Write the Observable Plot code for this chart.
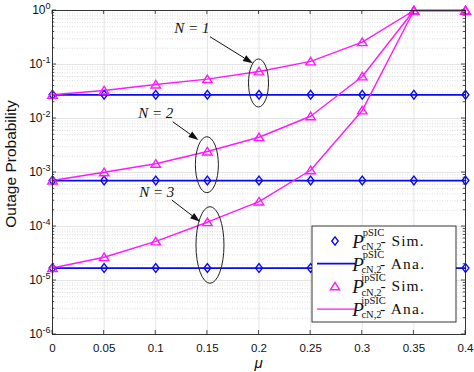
<!DOCTYPE html>
<html><head><meta charset="utf-8">
<script src="https://cdn.jsdelivr.net/npm/d3@7"></script>
<script src="https://cdn.jsdelivr.net/npm/@observablehq/plot@0.6"></script>
<style>
body{margin:0;background:#fff}
#chart{width:474px;height:372px}
</style>
</head><body><div id="chart"></div>
<script>
// ---- data ----
const mu = [0, 0.05, 0.1, 0.15, 0.2, 0.25, 0.3, 0.35, 0.4];
const Ns = [1, 2, 3];
const pSIC_N1 = [0.0275, 0.0275, 0.0275, 0.0275, 0.0275, 0.0275, 0.0275, 0.0275, 0.0275];
const pSIC_N2 = [7.1e-4, 7.1e-4, 7.1e-4, 7.1e-4, 7.1e-4, 7.1e-4, 7.1e-4, 7.1e-4, 7.1e-4];
const pSIC_N3 = [1.7e-5, 1.7e-5, 1.7e-5, 1.7e-5, 1.7e-5, 1.7e-5, 1.7e-5, 1.7e-5, 1.7e-5];
const ipSIC_N1 = [0.0275, 0.033, 0.0426, 0.0535, 0.0743, 0.114, 0.259, 1, 1];
const ipSIC_N2 = [7.1e-4, 1.01e-3, 1.45e-3, 2.45e-3, 4.5e-3, 0.011, 0.06, 1, 1];
const ipSIC_N3 = [1.7e-5, 2.7e-5, 5.3e-5, 1.2e-4, 2.9e-4, 1.1e-3, 0.0141, 1, 1];
const xTicks = [0, 0.05, 0.1, 0.15, 0.2, 0.25, 0.3, 0.35, 0.4];
const xTickLabels = ["0", "0.05", "0.1", "0.15", "0.2", "0.25", "0.3", "0.35", "0.4"];
const yTicks = [1e-6, 1e-5, 1e-4, 1e-3, 1e-2, 1e-1, 1];
const yExponents = ["-6", "-5", "-4", "-3", "-2", "-1", "0"];
const annLabels = ["N = 1", "N = 2", "N = 3"];
const annTextX = [0.135, 0.1, 0.101];
const annTextY = [0.464, 0.0124, 4.3e-4];
const arrowX1 = [0.153, 0.117, 0.116];
const arrowY1 = [0.32, 8.5e-3, 3.03e-4];
const arrowX2 = [0.1946, 0.1418, 0.1434];
const arrowY2 = [0.103, 3.9e-3, 1.2e-4];
const ellX = [0.2, 0.15, 0.153];
const ellTop = [0.124, 4.5e-3, 2.28e-4];
const ellBottom = [0.016, 4.14e-4, 8.7e-6];
const ellRx = [10, 11.5, 14];
const legendSup = ["pSIC", "pSIC", "ipSIC", "ipSIC"];
const legendKind = ["Sim.", "Ana.", "Sim.", "Ana."];

// ---- build tables ----
const pS = [pSIC_N1, pSIC_N2, pSIC_N3];
const ipS = [ipSIC_N1, ipSIC_N2, ipSIC_N3];
const rows = [];
Ns.forEach((n, j) => mu.forEach((m, i) => rows.push({mu: m, N: n, p: pS[j][i], ip: ipS[j][i]})));
const minorY = [];
for (let e = -6; e < 0; e++) for (let k = 2; k <= 9; k++) minorY.push(k * Math.pow(10, e));
const ann = annLabels.map((t, i) => ({t, x: annTextX[i], y: annTextY[i]}));

const BLUE = "#0a0af0", MAG = "#ff19ff";
const diamond = {draw(ctx, size) { const s = Math.sqrt(size / Math.PI);
  ctx.moveTo(0, -1.3 * s); ctx.lineTo(s, 0); ctx.lineTo(0, 1.3 * s); ctx.lineTo(-s, 0); ctx.closePath(); }};
const triangle = {draw(ctx, size) { const s = Math.sqrt(size / Math.PI);
  ctx.moveTo(0, -0.95 * s); ctx.lineTo(1.1 * s, 0.8 * s); ctx.lineTo(-1.1 * s, 0.8 * s); ctx.closePath(); }};

const svgNS = "http://www.w3.org/2000/svg";
function el(tag, attrs, parent) { const e = document.createElementNS(svgNS, tag);
  for (const k in attrs) e.setAttribute(k, attrs[k]); if (parent) parent.appendChild(e); return e; }

// inward ticks on all sides
function frameTicks(index, scales, values, dim) {
  const g = el("g", {stroke: "#222", "stroke-width": 0.8});
  const L = dim.marginLeft, R = dim.width - dim.marginRight, T = dim.marginTop, B = dim.height - dim.marginBottom;
  xTicks.forEach(v => { const x = scales.x(v);
    el("line", {x1: x, x2: x, y1: B, y2: B - 4}, g); el("line", {x1: x, x2: x, y1: T, y2: T + 4}, g); });
  yTicks.forEach(v => { const y = scales.y(v);
    el("line", {x1: L, x2: L + 4, y1: y, y2: y}, g); el("line", {x1: R, x2: R - 4, y1: y, y2: y}, g); });
  minorY.forEach(v => { const y = scales.y(v);
    el("line", {x1: L, x2: L + 2.2, y1: y, y2: y}, g); el("line", {x1: R, x2: R - 2.2, y1: y, y2: y}, g); });
  return g;
}

function annotations(index, scales) {
  const g = el("g", {});
  ellX.forEach((v, i) => {
    const cx = scales.x(v), y1 = scales.y(ellTop[i]), y2 = scales.y(ellBottom[i]);
    el("ellipse", {cx, cy: (y1 + y2) / 2, rx: ellRx[i], ry: (y2 - y1) / 2, fill: "none", stroke: "#222", "stroke-width": 1}, g);
  });
  arrowX1.forEach((v, i) => {
    const x1 = scales.x(v), y1 = scales.y(arrowY1[i]), x2 = scales.x(arrowX2[i]), y2 = scales.y(arrowY2[i]);
    const a = Math.atan2(y2 - y1, x2 - x1), hl = 10, hw = 3.4;
    const bx = x2 - hl * Math.cos(a), by = y2 - hl * Math.sin(a);
    el("line", {x1, y1, x2: bx, y2: by, stroke: "#111", "stroke-width": 1}, g);
    const p = [[x2, y2], [bx + hw * Math.sin(a), by - hw * Math.cos(a)], [bx - hw * Math.sin(a), by + hw * Math.cos(a)]];
    el("path", {d: "M" + p.map(q => q.join(",")).join("L") + "Z", fill: "#111"}, g);
  });
  return g;
}

function legendAndLabels(index, scales, values, dim) {
  const g = el("g", {});
  const R = dim.width - dim.marginRight, B = dim.height - dim.marginBottom;
  const w = 144, h = 96, x0 = R - 9 - w, y0 = B - 12 - h;
  el("rect", {x: x0, y: y0, width: w, height: h, fill: "white", stroke: "#222", "stroke-width": 0.9}, g);
  legendKind.forEach((k, i) => {
    const cy = y0 + 15 + i * 22.7;
    const color = i < 2 ? BLUE : MAG;
    if (k === "Ana.") el("line", {x1: x0 + 5, x2: x0 + 43, y1: cy, y2: cy, stroke: color, "stroke-width": i < 2 ? 1.8 : 1.4}, g);
    else {
      const ctx = d3.path(); (i === 0 ? diamond : triangle).draw(ctx, Math.PI * (i === 0 ? 3.2 : 4.2) ** 2);
      el("path", {d: ctx.toString(), transform: `translate(${x0 + 23},${cy})`, fill: "none", stroke: color, "stroke-width": 1.4}, g);
    }
    const f = "'Liberation Serif', 'Times New Roman', serif";
    const tP = el("text", {x: x0 + 46, y: cy + 7, "font-family": f, "font-size": 19, "font-style": "italic", fill: "#111"}, g); tP.textContent = "P";
    const tS = el("text", {x: x0 + 61.5, y: cy - 5.5, "font-family": f, "font-size": 10.5, fill: "#111"}, g); tS.textContent = legendSup[i];
    const tB = el("text", {x: x0 + 59.5, y: cy + 9.3, "font-family": f, "font-size": 10.5, fill: "#111"}, g); tB.textContent = "cN,2";
    const tK = el("text", {x: x0 + 90, y: cy + 4.8, "font-family": f, "font-size": 15.5, fill: "#111", lengthAdjust: "spacing"}, g); tK.textContent = "- " + k;
    tK.setAttribute("textLength", k === "Sim." ? 43 : 44);
  });
  // axis titles
  const yl = el("text", {transform: `translate(10,${(dim.marginTop + B) / 2 - 8}) rotate(-90)`, "text-anchor": "middle",
    "dominant-baseline": "central", "font-family": "'Liberation Sans', Arial, sans-serif", "font-size": 15.5, fill: "#111"}, g);
  yl.textContent = "Outage Probability";
  const xl = el("text", {x: (dim.marginLeft + R) / 2, y: dim.height - 4, "text-anchor": "middle",
    "font-family": "'Liberation Sans', Arial, sans-serif", "font-size": 15, "font-style": "italic", fill: "#111"}, g);
  xl.textContent = "μ";
  return g;
}

const chart = Plot.plot({
  width: 474, height: 372,
  marginLeft: 52, marginRight: 9, marginTop: 10, marginBottom: 38,
  style: {fontFamily: "'Liberation Sans', Arial, sans-serif", fontSize: "11.5px", color: "#111", background: "white"},
  x: {domain: [0, 0.4]},
  y: {type: "log", domain: [1e-6, 1]},
  marks: [
    Plot.ruleY(minorY, {stroke: "#bbb", strokeWidth: 0.7, strokeDasharray: "1,1.5", strokeOpacity: 0.75}),
    Plot.ruleY(yTicks, {stroke: "#ddd", strokeWidth: 0.8}),
    Plot.ruleX(xTicks, {stroke: "#ddd", strokeWidth: 0.8}),
    Plot.axisX({ticks: xTicks, tickSize: 0, tickPadding: 9, tickFormat: d => xTickLabels[xTicks.indexOf(d)], label: null}),
    Plot.axisY({ticks: yTicks, tickSize: 0, tickPadding: 2, fontSize: 12, tickFormat: d => "10^" + yExponents[yTicks.indexOf(d)], label: null}),
    Plot.line(rows, {x: "mu", y: "p", z: "N", stroke: BLUE, strokeWidth: 1.8}),
    Plot.line(rows, {x: "mu", y: "ip", z: "N", stroke: MAG, strokeWidth: 1.4}),
    Plot.dot(rows, {x: "mu", y: "p", symbol: diamond, r: 3.4, stroke: BLUE, strokeWidth: 1.4, fill: "none"}),
    Plot.dot(rows, {x: "mu", y: "ip", symbol: triangle, r: 4.3, stroke: MAG, strokeWidth: 1.4, fill: "none"}),
    annotations,
    Plot.text(ann, {x: "x", y: "y", text: "t", fontFamily: "'Liberation Serif', 'Times New Roman', serif", fontStyle: "italic", fontSize: 15, fill: "#111"}),
    legendAndLabels,
    Plot.frame({stroke: "#222", strokeWidth: 0.9}),
    frameTicks
  ]
});

// superscript exponents on y tick labels
d3.select(chart).selectAll('g[aria-label="y-axis tick label"] text').each(function() {
  const s = this.textContent; const parts = s.split("^");
  if (parts.length === 2) {
    this.textContent = "";
    const a = document.createElementNS(svgNS, "tspan"); a.textContent = parts[0]; this.appendChild(a);
    const b = document.createElementNS(svgNS, "tspan"); b.textContent = parts[1];
    b.setAttribute("dy", "-0.6em"); b.setAttribute("font-size", "9px"); this.appendChild(b);
  }
});
document.getElementById("chart").appendChild(chart);
</script>
</body></html>
